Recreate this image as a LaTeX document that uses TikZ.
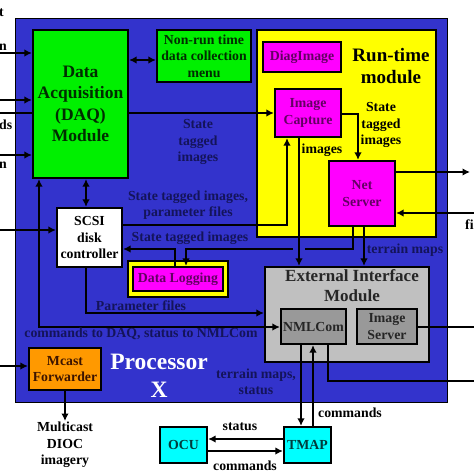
\documentclass[tikz,border=0pt]{standalone}
\usepackage{fontspec}
\setmainfont{Liberation Serif}
\usepackage{tikz}
\usetikzlibrary{arrows.meta}
\usetikzlibrary{calc}
\usepackage{xcolor}

\definecolor{procblue}{RGB}{51,51,204}
\definecolor{navytext}{RGB}{20,20,90}
\definecolor{daqgreen}{RGB}{0,240,0}
\definecolor{greentext}{RGB}{0,45,0}
\definecolor{rtyellow}{RGB}{255,255,0}
\definecolor{modmagenta}{RGB}{255,0,255}
\definecolor{magtext}{RGB}{100,0,100}
\definecolor{eimgray}{RGB}{192,192,192}
\definecolor{subgray}{RGB}{153,153,153}
\definecolor{termcyan}{RGB}{0,255,255}
\definecolor{cyantext}{RGB}{0,60,60}
\definecolor{fwdorange}{RGB}{255,153,0}
\definecolor{orangetext}{RGB}{60,20,0}

\begin{document}
\begin{tikzpicture}[x=1pt, y=-1pt]
        % ================= 样式定义 =================
        \tikzset{
            % 方框样式
            box/.style={draw=black, line width=2.2pt, inner sep=1pt, align=center,
                        font=\fontsize{13.8}{16.5}\selectfont\bfseries},
            bigbox/.style={box, font=\fontsize{17.5}{21.3}\selectfont\bfseries},
            % 连线样式
            link/.style={line width=2.6pt, black},
            >={Latex[length=7.5pt, width=7.5pt]},
            % 文字标签
            lbl/.style={align=center, inner sep=1pt, text=navytext,
                        font=\fontsize{13.8}{16.5}\selectfont\bfseries},
            olbl/.style={lbl, text=black}
        }
        \useasboundingbox (0,0) rectangle (474,474);

        % ================= 1. 外框:处理器 (Processor X) =================
        \node[draw=black, thin, fill=procblue, minimum width=432pt, minimum height=384pt] (proc) at (231,210) {};
        \node[align=center, text=white, font=\fontsize{23.5}{28}\selectfont\bfseries] (proclbl) at (159,376) {Processor\\X};

        % ================= 2. 左上:数据采集 (DAQ) =================
        \node[bigbox, fill=daqgreen, text=greentext, minimum width=95pt, minimum height=148pt] (daq) at (80.5,104) {Data\\Acquisition\\(DAQ)\\Module};
        \node[box, fill=daqgreen, text=greentext, minimum width=94pt, minimum height=52pt] (nonrun) at (204,56) {Non-run time\\data collection\\menu};
        \node[box, fill=white, text=black, minimum width=65pt, minimum height=59pt] (scsi) at (89.5,237.5) {SCSI\\disk\\controller};
        \node[box, fill=rtyellow, minimum width=100pt, minimum height=36pt] (logframe) at (178,279) {};
        \node[box, fill=modmagenta, text=magtext, minimum width=90pt, minimum height=24pt] (logging) at (178,279) {Data Logging};

        % ================= 3. 右上:运行模块 (Run-time module) =================
        \node[box, fill=rtyellow, minimum width=179pt, minimum height=207pt] (runtime) at (346.5,133.5) {};
        \node[align=center, font=\fontsize{19}{22}\selectfont\bfseries] (rtlbl) at (391,66) {Run-time\\module};
        \node[box, fill=modmagenta, text=magtext, minimum width=78pt, minimum height=30pt] (diag) at (302,57) {DiagImage};
        \node[box, fill=modmagenta, text=magtext, minimum width=66pt, minimum height=48pt] (capture) at (308,113) {Image\\Capture};
        \node[box, fill=modmagenta, text=magtext, minimum width=66pt, minimum height=65pt] (netsrv) at (362,193.5) {Net\\Server};

        % ================= 4. 右下:外部接口 (External Interface) =================
        \node[box, fill=eimgray, minimum width=164pt, minimum height=95pt] (eim) at (347,314.5) {};
        \node[align=center, text=black!85, font=\fontsize{17}{20}\selectfont\bfseries] (eimlbl) at (352,286) {External Interface\\Module};
        \node[box, fill=subgray, text=black!85, minimum width=65pt, minimum height=35pt] (nmlcom) at (313.5,326.5) {NMLCom};
        \node[box, fill=subgray, text=black!85, minimum width=60pt, minimum height=35pt] (imgsrv) at (387,326.5) {Image\\Server};

        % ================= 5. 底部:终端 (Mcast / OCU / TMAP) =================
        \node[box, fill=fwdorange, text=orangetext, minimum width=72pt, minimum height=42pt] (mcast) at (65,369) {Mcast\\Forwarder};
        \node[box, fill=termcyan, text=cyantext, minimum width=47pt, minimum height=36pt] (tmap) at (307.5,445) {TMAP};
        \node[box, fill=termcyan, text=cyantext, minimum width=47pt, minimum height=36pt] (ocu) at (183.5,445) {OCU};

        % ================= 6. 连线 =================
        % 左侧输入
        \foreach \n/\yy in {inA/53, inB/100, inD/155} {
            \coordinate (\n) at (0,\yy);
            \draw[link,->] (\n) -- (daq.west |- \n);
        }
        \coordinate (inC) at (0,113);
        \draw[link] (inC) -- (daq.west |- inC);
        \draw[link,->] (daq.east |- capture.west) -- (capture.west);
        \draw[link,<->] (daq.east |- 0,60) -- (nonrun.west |- 0,60);
        \coordinate (inE) at (0,230);
        \draw[link,->] (inE) -- (scsi.west |- inE);
        \draw[link,<->] (daq.south -| 86,0) -- (scsi.north -| 86,0);

        % 磁盘 <-> 运行模块
        \draw[link,->] (scsi.east |- 0,225) -| (capture.south -| 287,0);
        \draw[link,->] (logging.north -| 175,0) |- (scsi.east |- 0,249);
        \draw[link,->] (netsrv.south -| 353,0) |- (186,249) -- (logging.north -| 186,0);
        \fill[procblue] (293,244) rectangle (305,254); % 跨线缺口
        \draw[link,->] (capture.south -| 299,0) -- (eim.north -| 299,0);
        \draw[link,->] (netsrv.south -| 364,0) -- (eim.north -| 364,0);
        \draw[link,->] (capture.east |- 0,114) -| (netsrv.north -| 358,0);

        % 右侧输出
        \coordinate (outF) at (470,172);
        \draw[link,->] (netsrv.east |- outF) -- (outF);
        \coordinate (inF) at (474,213);
        \draw[link,->] (inF) -- (netsrv.east |- inF);
        \coordinate (outG) at (474,327);
        \draw[link] (imgsrv.east |- outG) -- (outG);
        \coordinate (outH) at (474,381);
        \draw[link] (nmlcom.south -| 328,0) |- (outH);

        % 参数文件 / 命令
        \draw[link,->] (scsi.south -| 86,0) |- (eim.west |- 0,313);
        \draw[link,<->] (daq.south -| 39,0) |- (nmlcom.west |- 0,327);

        % TMAP / OCU
        \draw[link,->] (nmlcom.south -| 301,0) -- (tmap.north -| 301,0);
        \draw[link,->] (tmap.north -| 313,0) -- (nmlcom.south -| 313,0);
        \draw[link,->] (tmap.west |- 0,439) -- (ocu.east |- 0,439);
        \draw[link,->] (ocu.east |- 0,451) -- (tmap.west |- 0,451);

        % Mcast
        \coordinate (inG) at (0,366);
        \draw[link,->] (inG) -- (mcast.west |- inG);
        \coordinate (outM) at (65,421);
        \draw[link,->] (mcast.south) -- (outM);

        % ================= 7. 标签 =================
        \node[lbl] (lsti1) at (198,142) {State\\tagged\\images};
        \node[lbl] (lstp) at (188,205) {State tagged images,\\parameter files};
        \node[lbl] (lsti2) at (190,238) {State tagged images};
        \node[lbl] (lpar) at (141,306) {Parameter files};
        \node[lbl] (lcmd) at (141,334) {commands to DAQ, status to NMLCom};
        \node[olbl] (limg) at (322,150) {images};
        \node[olbl] (lsti3) at (381,125) {State\\tagged\\images};
        \node[lbl] (lter) at (405,250) {terrain maps};
        \node[lbl] (lts) at (256,382) {terrain maps,\\status};
        \node[olbl] (lcmd2) at (350,413) {commands};
        \node[olbl] (lst) at (240,427) {status};
        \node[olbl] (lcmd3) at (245,466) {commands};
        \node[olbl, anchor=north] (lmc) at (outM) {Multicast\\DIOC\\imagery};
        \foreach \n/\yy/\t in {lt/13/t, ln1/47/n, lds/125/ds, ln2/165/n} {
            \node[olbl, anchor=west, inner sep=0pt] (\n) at (-1,\yy) {\t};
        }
        \node[olbl, anchor=west, inner sep=0pt] (lfi) at (465,225) {fi};

    \end{tikzpicture}
\end{document}
